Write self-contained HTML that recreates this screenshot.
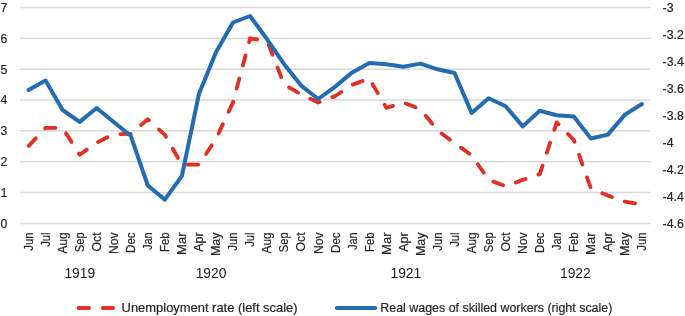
<!DOCTYPE html><html><head><meta charset="utf-8"><title>Unemployment rate and real wages, 1919-1922</title><style>html,body{margin:0;padding:0;background:#fff;overflow:hidden;}svg{display:block;}text{font-family:"Liberation Sans",sans-serif;stroke:#262626;stroke-width:0.2px;}</style></head><body>
<svg width="685" height="316" viewBox="0 0 685 316">
<rect width="685" height="316" fill="#fff"/>
<line x1="20.0" y1="223.40" x2="650.5" y2="223.40" stroke="#d9d9d9" stroke-width="1.5"/>
<line x1="20.0" y1="192.55" x2="650.5" y2="192.55" stroke="#d9d9d9" stroke-width="1.5"/>
<line x1="20.0" y1="161.70" x2="650.5" y2="161.70" stroke="#d9d9d9" stroke-width="1.5"/>
<line x1="20.0" y1="130.85" x2="650.5" y2="130.85" stroke="#d9d9d9" stroke-width="1.5"/>
<line x1="20.0" y1="100.00" x2="650.5" y2="100.00" stroke="#d9d9d9" stroke-width="1.5"/>
<line x1="20.0" y1="69.15" x2="650.5" y2="69.15" stroke="#d9d9d9" stroke-width="1.5"/>
<line x1="20.0" y1="38.30" x2="650.5" y2="38.30" stroke="#d9d9d9" stroke-width="1.5"/>
<line x1="20.0" y1="7.45" x2="650.5" y2="7.45" stroke="#d9d9d9" stroke-width="1.5"/>
<text x="0.46" y="227.80" font-size="12.3" fill="#262626" textLength="6.84" lengthAdjust="spacingAndGlyphs">0</text>
<text x="0.46" y="196.95" font-size="12.3" fill="#262626" textLength="6.84" lengthAdjust="spacingAndGlyphs">1</text>
<text x="0.46" y="166.10" font-size="12.3" fill="#262626" textLength="6.84" lengthAdjust="spacingAndGlyphs">2</text>
<text x="0.46" y="135.25" font-size="12.3" fill="#262626" textLength="6.84" lengthAdjust="spacingAndGlyphs">3</text>
<text x="0.46" y="104.40" font-size="12.3" fill="#262626" textLength="6.84" lengthAdjust="spacingAndGlyphs">4</text>
<text x="0.46" y="73.55" font-size="12.3" fill="#262626" textLength="6.84" lengthAdjust="spacingAndGlyphs">5</text>
<text x="0.46" y="42.70" font-size="12.3" fill="#262626" textLength="6.84" lengthAdjust="spacingAndGlyphs">6</text>
<text x="0.46" y="11.85" font-size="12.3" fill="#262626" textLength="6.84" lengthAdjust="spacingAndGlyphs">7</text>
<text x="662.6" y="11.70" font-size="12.3" fill="#262626" textLength="10.98" lengthAdjust="spacingAndGlyphs">-3</text>
<text x="662.6" y="38.69" font-size="12.3" fill="#262626" textLength="21.23" lengthAdjust="spacingAndGlyphs">-3.2</text>
<text x="662.6" y="65.67" font-size="12.3" fill="#262626" textLength="21.23" lengthAdjust="spacingAndGlyphs">-3.4</text>
<text x="662.6" y="92.66" font-size="12.3" fill="#262626" textLength="21.23" lengthAdjust="spacingAndGlyphs">-3.6</text>
<text x="662.6" y="119.65" font-size="12.3" fill="#262626" textLength="21.23" lengthAdjust="spacingAndGlyphs">-3.8</text>
<text x="662.6" y="146.64" font-size="12.3" fill="#262626" textLength="10.98" lengthAdjust="spacingAndGlyphs">-4</text>
<text x="662.6" y="173.63" font-size="12.3" fill="#262626" textLength="21.23" lengthAdjust="spacingAndGlyphs">-4.2</text>
<text x="662.6" y="200.61" font-size="12.3" fill="#262626" textLength="21.23" lengthAdjust="spacingAndGlyphs">-4.4</text>
<text x="662.6" y="227.60" font-size="12.3" fill="#262626" textLength="21.23" lengthAdjust="spacingAndGlyphs">-4.6</text>
<text transform="translate(32.82,232.4) rotate(-90)" font-size="12" fill="#262626" text-anchor="end" textLength="18.35" lengthAdjust="spacingAndGlyphs">Jun</text>
<text transform="translate(49.86,232.4) rotate(-90)" font-size="12" fill="#262626" text-anchor="end" textLength="14.39" lengthAdjust="spacingAndGlyphs">Jul</text>
<text transform="translate(66.90,232.4) rotate(-90)" font-size="12" fill="#262626" text-anchor="end" textLength="21.10" lengthAdjust="spacingAndGlyphs">Aug</text>
<text transform="translate(83.94,232.4) rotate(-90)" font-size="12" fill="#262626" text-anchor="end" textLength="19.86" lengthAdjust="spacingAndGlyphs">Sep</text>
<text transform="translate(100.98,232.4) rotate(-90)" font-size="12" fill="#262626" text-anchor="end" textLength="19.03" lengthAdjust="spacingAndGlyphs">Oct</text>
<text transform="translate(118.02,232.4) rotate(-90)" font-size="12" fill="#262626" text-anchor="end" textLength="21.71" lengthAdjust="spacingAndGlyphs">Nov</text>
<text transform="translate(135.06,232.4) rotate(-90)" font-size="12" fill="#262626" text-anchor="end" textLength="20.58" lengthAdjust="spacingAndGlyphs">Dec</text>
<text transform="translate(152.10,232.4) rotate(-90)" font-size="12" fill="#262626" text-anchor="end" textLength="17.73" lengthAdjust="spacingAndGlyphs">Jan</text>
<text transform="translate(169.14,232.4) rotate(-90)" font-size="12" fill="#262626" text-anchor="end" textLength="19.67" lengthAdjust="spacingAndGlyphs">Feb</text>
<text transform="translate(186.19,232.4) rotate(-90)" font-size="12" fill="#262626" text-anchor="end" textLength="22.55" lengthAdjust="spacingAndGlyphs">Mar</text>
<text transform="translate(203.23,232.4) rotate(-90)" font-size="12" fill="#262626" text-anchor="end" textLength="19.47" lengthAdjust="spacingAndGlyphs">Apr</text>
<text transform="translate(220.27,232.4) rotate(-90)" font-size="12" fill="#262626" text-anchor="end" textLength="23.69" lengthAdjust="spacingAndGlyphs">May</text>
<text transform="translate(237.31,232.4) rotate(-90)" font-size="12" fill="#262626" text-anchor="end" textLength="18.35" lengthAdjust="spacingAndGlyphs">Jun</text>
<text transform="translate(254.35,232.4) rotate(-90)" font-size="12" fill="#262626" text-anchor="end" textLength="14.39" lengthAdjust="spacingAndGlyphs">Jul</text>
<text transform="translate(271.39,232.4) rotate(-90)" font-size="12" fill="#262626" text-anchor="end" textLength="21.10" lengthAdjust="spacingAndGlyphs">Aug</text>
<text transform="translate(288.43,232.4) rotate(-90)" font-size="12" fill="#262626" text-anchor="end" textLength="19.86" lengthAdjust="spacingAndGlyphs">Sep</text>
<text transform="translate(305.47,232.4) rotate(-90)" font-size="12" fill="#262626" text-anchor="end" textLength="19.03" lengthAdjust="spacingAndGlyphs">Oct</text>
<text transform="translate(322.51,232.4) rotate(-90)" font-size="12" fill="#262626" text-anchor="end" textLength="21.71" lengthAdjust="spacingAndGlyphs">Nov</text>
<text transform="translate(339.55,232.4) rotate(-90)" font-size="12" fill="#262626" text-anchor="end" textLength="20.58" lengthAdjust="spacingAndGlyphs">Dec</text>
<text transform="translate(356.59,232.4) rotate(-90)" font-size="12" fill="#262626" text-anchor="end" textLength="17.73" lengthAdjust="spacingAndGlyphs">Jan</text>
<text transform="translate(373.63,232.4) rotate(-90)" font-size="12" fill="#262626" text-anchor="end" textLength="19.67" lengthAdjust="spacingAndGlyphs">Feb</text>
<text transform="translate(390.67,232.4) rotate(-90)" font-size="12" fill="#262626" text-anchor="end" textLength="22.55" lengthAdjust="spacingAndGlyphs">Mar</text>
<text transform="translate(407.71,232.4) rotate(-90)" font-size="12" fill="#262626" text-anchor="end" textLength="19.47" lengthAdjust="spacingAndGlyphs">Apr</text>
<text transform="translate(424.75,232.4) rotate(-90)" font-size="12" fill="#262626" text-anchor="end" textLength="23.69" lengthAdjust="spacingAndGlyphs">May</text>
<text transform="translate(441.79,232.4) rotate(-90)" font-size="12" fill="#262626" text-anchor="end" textLength="18.35" lengthAdjust="spacingAndGlyphs">Jun</text>
<text transform="translate(458.83,232.4) rotate(-90)" font-size="12" fill="#262626" text-anchor="end" textLength="14.39" lengthAdjust="spacingAndGlyphs">Jul</text>
<text transform="translate(475.87,232.4) rotate(-90)" font-size="12" fill="#262626" text-anchor="end" textLength="21.10" lengthAdjust="spacingAndGlyphs">Aug</text>
<text transform="translate(492.91,232.4) rotate(-90)" font-size="12" fill="#262626" text-anchor="end" textLength="19.86" lengthAdjust="spacingAndGlyphs">Sep</text>
<text transform="translate(509.96,232.4) rotate(-90)" font-size="12" fill="#262626" text-anchor="end" textLength="19.03" lengthAdjust="spacingAndGlyphs">Oct</text>
<text transform="translate(527.00,232.4) rotate(-90)" font-size="12" fill="#262626" text-anchor="end" textLength="21.71" lengthAdjust="spacingAndGlyphs">Nov</text>
<text transform="translate(544.04,232.4) rotate(-90)" font-size="12" fill="#262626" text-anchor="end" textLength="20.58" lengthAdjust="spacingAndGlyphs">Dec</text>
<text transform="translate(561.08,232.4) rotate(-90)" font-size="12" fill="#262626" text-anchor="end" textLength="17.73" lengthAdjust="spacingAndGlyphs">Jan</text>
<text transform="translate(578.12,232.4) rotate(-90)" font-size="12" fill="#262626" text-anchor="end" textLength="19.67" lengthAdjust="spacingAndGlyphs">Feb</text>
<text transform="translate(595.16,232.4) rotate(-90)" font-size="12" fill="#262626" text-anchor="end" textLength="22.55" lengthAdjust="spacingAndGlyphs">Mar</text>
<text transform="translate(612.20,232.4) rotate(-90)" font-size="12" fill="#262626" text-anchor="end" textLength="19.47" lengthAdjust="spacingAndGlyphs">Apr</text>
<text transform="translate(629.24,232.4) rotate(-90)" font-size="12" fill="#262626" text-anchor="end" textLength="23.69" lengthAdjust="spacingAndGlyphs">May</text>
<text transform="translate(646.28,232.4) rotate(-90)" font-size="12" fill="#262626" text-anchor="end" textLength="18.35" lengthAdjust="spacingAndGlyphs">Jun</text>
<text x="64.4" y="278.1" font-size="13.8" fill="#1a1a1a" style="stroke:none">1919</text>
<text x="195.7" y="278.1" font-size="13.8" fill="#1a1a1a" style="stroke:none">1920</text>
<text x="390.5" y="278.1" font-size="13.8" fill="#1a1a1a" style="stroke:none">1921</text>
<text x="560.0" y="278.1" font-size="13.8" fill="#1a1a1a" style="stroke:none">1922</text>
<polyline points="28.52,146.10 45.56,127.90 62.60,127.90 79.64,154.80 96.68,142.60 113.72,134.20 130.76,133.90 147.80,119.30 164.84,134.80 181.89,164.70" fill="none" stroke="#e12f24" stroke-width="3.8" stroke-linejoin="round" stroke-linecap="round" stroke-dasharray="10.4 13.6" stroke-dashoffset="23.70"/>
<polyline points="181.89,164.70 198.93,164.70 215.97,139.00 233.01,102.30" fill="none" stroke="#e12f24" stroke-width="3.8" stroke-linejoin="round" stroke-linecap="round" stroke-dasharray="10.4 13.6" stroke-dashoffset="18.11"/>
<polyline points="233.01,102.30 250.05,38.50" fill="none" stroke="#e12f24" stroke-width="3.8" stroke-linejoin="round" stroke-linecap="round" stroke-dasharray="10.4 13.6" stroke-dashoffset="9.85"/>
<polyline points="250.05,38.50 267.09,40.80" fill="none" stroke="#e12f24" stroke-width="3.8" stroke-linejoin="round" stroke-linecap="round" stroke-dasharray="10.4 13.6" stroke-dashoffset="3.28"/>
<polyline points="267.09,40.80 284.13,84.50 301.17,94.50 318.21,102.50 335.25,96.00 352.29,84.80 369.33,78.60 386.37,107.90 403.41,102.60 420.45,109.10 437.49,130.30 454.53,143.10 471.57,155.20 488.61,179.80 505.66,186.30 522.70,179.90 539.74,174.20 556.78,122.40 573.82,140.00 590.86,188.30 607.90,195.60 624.94,201.70 641.98,204.70" fill="none" stroke="#e12f24" stroke-width="3.8" stroke-linejoin="round" stroke-linecap="round" stroke-dasharray="10.4 13.6" stroke-dashoffset="19.38"/>
<polyline points="28.52,90.00 45.56,80.60 62.60,110.00 79.64,121.90 96.68,108.00 113.72,122.00 130.76,135.80 147.80,185.50 164.84,199.60 181.89,175.90 198.93,94.00 215.97,52.20 233.01,22.50 250.05,16.00 267.09,39.30 284.13,64.20 301.17,85.60 318.21,99.00 335.25,86.60 352.29,72.40 369.33,62.90 386.37,64.30 403.41,66.70 420.45,63.60 437.49,69.30 454.53,73.00 471.57,112.90 488.61,98.20 505.66,106.20 522.70,126.40 539.74,110.70 556.78,115.20 573.82,116.50 590.86,138.50 607.90,134.60 624.94,114.60 641.98,104.00" fill="none" stroke="#236cb2" stroke-width="4.0" stroke-linejoin="round" stroke-linecap="round"/>
<line x1="78.5" y1="308" x2="89" y2="308" stroke="#e12f24" stroke-width="3.8" stroke-linecap="round"/>
<line x1="102.8" y1="308" x2="113.1" y2="308" stroke="#e12f24" stroke-width="3.8" stroke-linecap="round"/>
<text x="121.6" y="311.8" font-size="13" fill="#262626" textLength="176" lengthAdjust="spacingAndGlyphs">Unemployment rate (left scale)</text>
<line x1="336.8" y1="307.9" x2="375.2" y2="307.9" stroke="#236cb2" stroke-width="4.0" stroke-linecap="round"/>
<text x="380.3" y="311.8" font-size="13" fill="#262626" textLength="232.03" lengthAdjust="spacingAndGlyphs">Real wages of skilled workers (right scale)</text>
</svg></body></html>
